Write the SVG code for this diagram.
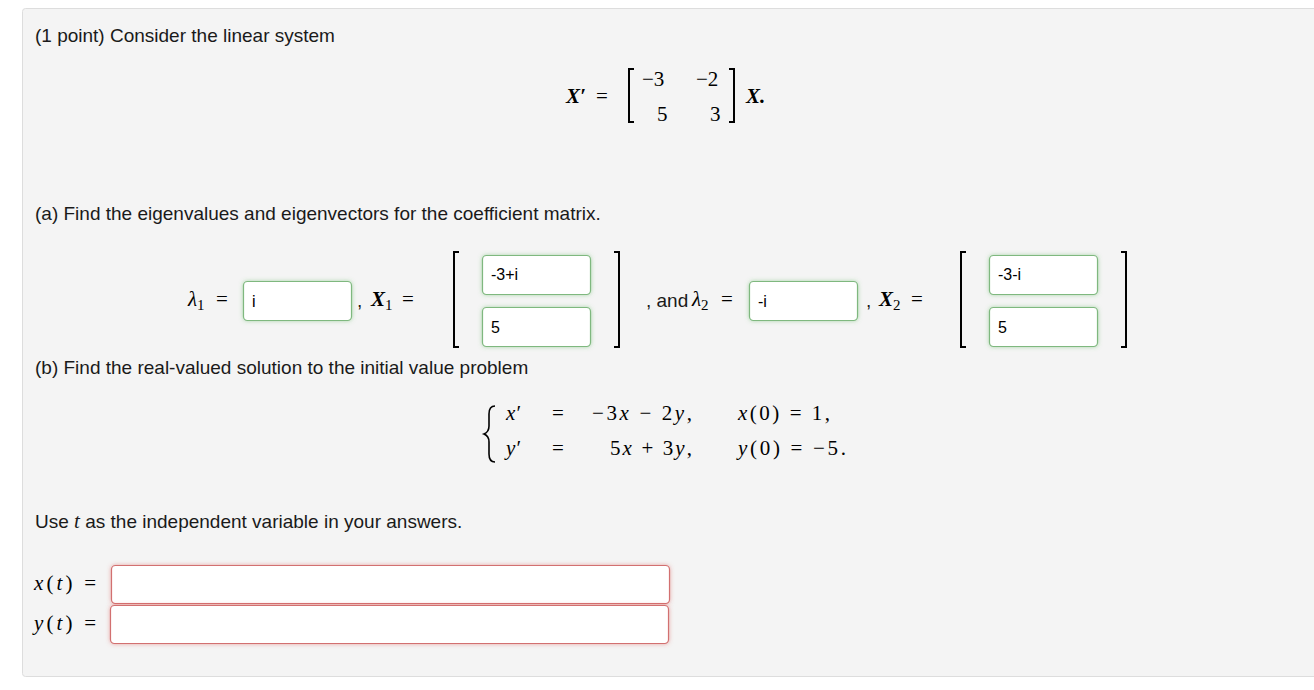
<svg xmlns="http://www.w3.org/2000/svg" width="1314" height="690" viewBox="0 0 1314 690">
<style>
.t{font-family:"Liberation Sans",Arial,sans-serif;font-size:19px;fill:#1a1a1a}
.m{font-family:"Liberation Serif","DejaVu Serif",serif;font-size:21px;fill:#000}
.i{font-style:italic}
.b{font-weight:bold;font-style:italic}
.ok{fill:#fff;stroke:#7fb87f;stroke-width:1.2}
.bad{fill:#fff;stroke:#d27070;stroke-width:1.2}
.br{fill:none;stroke:#000;stroke-width:2}
.v{font-family:"Liberation Sans",Arial,sans-serif;font-size:16px;fill:#000}
</style>
<defs>
<filter id="gg" x="-10%" y="-30%" width="120%" height="160%"><feDropShadow dx="0" dy="0" stdDeviation="2" flood-color="#5cb85c" flood-opacity="0.5"/></filter>
<filter id="rg" x="-10%" y="-30%" width="120%" height="160%"><feDropShadow dx="0" dy="0" stdDeviation="2" flood-color="#d9534f" flood-opacity="0.5"/></filter>
</defs>
<rect width="1314" height="690" fill="#fff"/>
<rect x="22.5" y="8.5" width="1300" height="668" rx="3" fill="#f4f4f4" stroke="#ddd"/>
<text class="t" x="35" y="42">(1 point) Consider the linear system</text>
<g id="eq1">
<text class="m b" x="566" y="103">X′</text><text class="m" x="596" y="103">=</text>
<path class="br" d="M634,69 h-5 v53 h5 M729,69 h5 v53 h-5"/>
<text class="m" x="642" y="86">−3</text><text class="m" x="696" y="86">−2</text>
<text class="m" x="657" y="121">5</text><text class="m" x="710" y="121">3</text>
<text class="m b" x="746" y="103">X.</text>
</g>
<text class="t" x="35" y="220">(a) Find the eigenvalues and eigenvectors for the coefficient matrix.</text>
<g id="part-a">
<text class="m i" x="188" y="306">λ<tspan font-size="15" font-style="normal" dy="4">1</tspan></text>
<text class="m" x="216" y="306">=</text>
<rect class="ok" filter="url(#gg)" x="243.5" y="281.5" width="108" height="39" rx="4"/>
<text class="v" x="252" y="307">i</text>
<text class="t" x="357" y="307">,</text>
<text class="m b" x="371" y="306">X<tspan font-size="15" font-weight="normal" font-style="normal" dy="4">1</tspan></text>
<text class="m" x="402" y="306">=</text>
<path class="br" d="M459,252 h-5 v95 h5 M614,252 h5 v95 h-5"/>
<rect class="ok" filter="url(#gg)" x="482.5" y="255.5" width="108" height="39" rx="4"/>
<text class="v" x="491" y="280">-3+i</text>
<rect class="ok" filter="url(#gg)" x="482.5" y="307.5" width="108" height="39" rx="4"/>
<text class="v" x="491" y="333">5</text>
<text class="t" x="646" y="307">, and</text>
<text class="m i" x="692" y="306">λ<tspan font-size="15" font-style="normal" dy="4">2</tspan></text>
<text class="m" x="721" y="306">=</text>
<rect class="ok" filter="url(#gg)" x="749.5" y="281.5" width="108" height="39" rx="4"/>
<text class="v" x="758" y="307">-i</text>
<text class="t" x="866" y="307">,</text>
<text class="m b" x="879" y="306">X<tspan font-size="15" font-weight="normal" font-style="normal" dy="4">2</tspan></text>
<text class="m" x="911" y="306">=</text>
<path class="br" d="M966,252 h-5 v95 h5 M1121,252 h5 v95 h-5"/>
<rect class="ok" filter="url(#gg)" x="989.5" y="255.5" width="108" height="39" rx="4"/>
<text class="v" x="998" y="280">-3-i</text>
<rect class="ok" filter="url(#gg)" x="989.5" y="307.5" width="108" height="39" rx="4"/>
<text class="v" x="998" y="333">5</text>
</g>
<text class="t" x="35" y="374">(b) Find the real-valued solution to the initial value problem</text>
<g id="eq2">
<path d="M495,406 q-6,0 -6,8 v12 q0,6 -5,8 q5,2 5,8 v12 q0,8 6,8" fill="none" stroke="#000" stroke-width="1.6"/>
<text class="m i" x="506" y="420">x′</text><text class="m" x="552" y="420">=</text>
<text class="m" x="592" y="420" textLength="100">−3<tspan font-style="italic">x</tspan> − 2<tspan font-style="italic">y</tspan>,</text>
<text class="m" x="738" y="420" textLength="92"><tspan font-style="italic">x</tspan>(0) = 1,</text>
<text class="m i" x="506" y="455">y′</text><text class="m" x="552" y="455">=</text>
<text class="m" x="610" y="455" textLength="82">5<tspan font-style="italic">x</tspan> + 3<tspan font-style="italic">y</tspan>,</text>
<text class="m" x="738" y="455" textLength="108"><tspan font-style="italic">y</tspan>(0) = −5.</text>
</g>
<text class="t" x="35" y="528">Use <tspan font-family="Liberation Serif,serif" font-style="italic" font-size="21">t</tspan> as the independent variable in your answers.</text>
<g id="answers">
<text class="m" x="34" y="590" textLength="62"><tspan font-style="italic">x</tspan>(<tspan font-style="italic">t</tspan>) =</text>
<rect class="bad" filter="url(#rg)" x="111.5" y="565.5" width="558" height="38" rx="4"/>
<text class="m" x="34" y="630" textLength="62"><tspan font-style="italic">y</tspan>(<tspan font-style="italic">t</tspan>) =</text>
<rect class="bad" filter="url(#rg)" x="110.5" y="605.5" width="558" height="38" rx="4"/>
</g>
</svg>
